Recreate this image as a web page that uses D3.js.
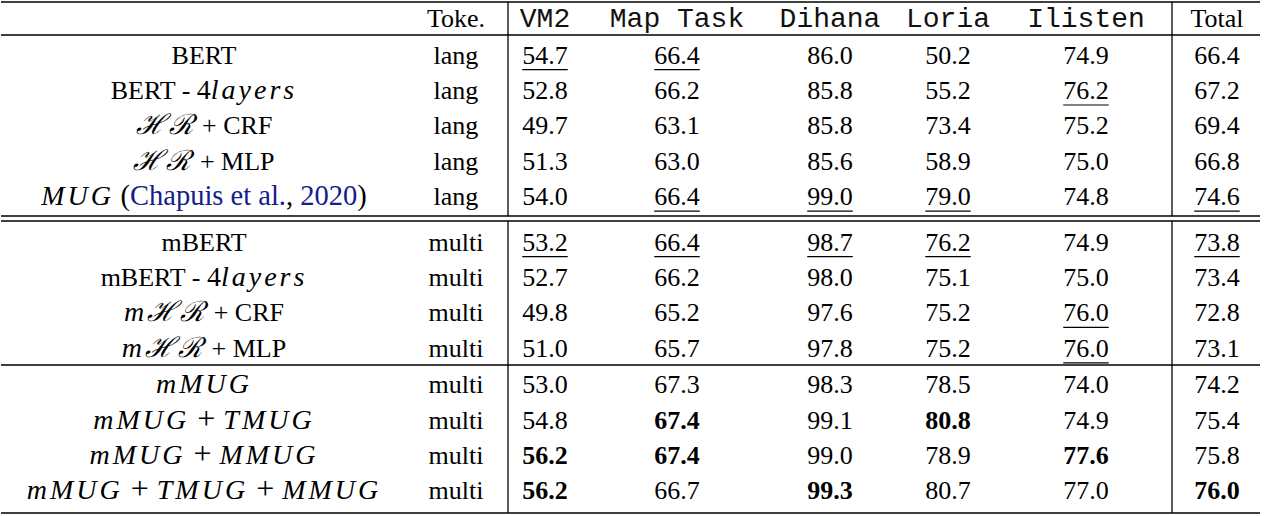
<!DOCTYPE html>
<html><head><meta charset="utf-8">
<script src="https://cdn.jsdelivr.net/npm/d3@7"></script>
<style>body{margin:0;background:#fff}svg{display:block}</style>
</head><body>
<script>
// ---------- data ----------
const datasetColumns = ["VM2", "Map Task", "Dihana", "Loria", "Ilisten"];
const tokeHeader = "Toke.";
const totalHeader = "Total";
// $...$ = math italic, {...} = citation (blue), [...] = parenthetical citation wrapper
const methods = [
  "BERT", "BERT - $4layers$", "$ℋℛ$ + CRF", "$ℋℛ$ + MLP", "$MUG$ [({Chapuis et al.}, {2020})]",
  "mBERT", "mBERT - $4layers$", "$mℋℛ$ + CRF", "$mℋℛ$ + MLP",
  "$mMUG$", "$mMUG+TMUG$", "$mMUG+MMUG$", "$mMUG+TMUG+MMUG$"
];
const tokenizers = ["lang","lang","lang","lang","lang","multi","multi","multi","multi","multi","multi","multi","multi"];
const groups =     [0,0,0,0,0,1,1,1,1,2,2,2,2];
const vm2     = [54.7,52.8,49.7,51.3,54.0,53.2,52.7,49.8,51.0,53.0,54.8,56.2,56.2];
const mapTask = [66.4,66.2,63.1,63.0,66.4,66.4,66.2,65.2,65.7,67.3,67.4,67.4,66.7];
const dihana  = [86.0,85.8,85.8,85.6,99.0,98.7,98.0,97.6,97.8,98.3,99.1,99.0,99.3];
const loria   = [50.2,55.2,73.4,58.9,79.0,76.2,75.1,75.2,75.2,78.5,80.8,78.9,80.7];
const ilisten = [74.9,76.2,75.2,75.0,74.8,74.9,75.0,76.0,76.0,74.0,74.9,77.6,77.0];
const total   = [66.4,67.2,69.4,66.8,74.6,73.8,73.4,72.8,73.1,74.2,75.4,75.8,76.0];
// per row, per value column (VM2..Ilisten, Total): u = underline, b = bold
const emphasis = [
  "uu----", "----u-", "------", "------", "-uuu-u",
  "uuuu-u", "------", "----u-", "----u-",
  "------", "-b-b--", "bb--b-", "b-b--b"
];

// ---------- layout ----------
const W = 1266, H = 516;
const serif = "'Liberation Serif','Times New Roman',serif";
const mathFont = "'Liberation Serif','Times New Roman',serif";
const mono = "'Liberation Mono','Courier New',monospace";
const fs = 26, fsMath = 28, fsMono = 28, fsCite = 28.5;
const colKeys = ["method","toke","VM2","Map Task","Dihana","Loria","Ilisten","Total"];
const x = d3.scaleOrdinal().domain(colKeys).range([204, 456, 545, 677, 830, 948, 1086, 1217]);
const rowIdx = d3.range(methods.length);
const yBase = d3.scaleLinear().domain([0, 12]).range([55, 55 + 12 * 35.4]);
const groupOffset = d3.scaleOrdinal().domain([0,1,2]).range([0, 10, 11]);
const y = i => yBase(i) + groupOffset(groups[i]);
const headerY = 18;
const xl = 1, xr = 1260;
const vLines = [508, 1172];
const hTop = 2, hHead = 35, hDbl1 = 216, hDbl2 = 221, hSep = 365, hBot = 513;

const svg = d3.select("body").append("svg").attr("width", W).attr("height", H);

// rules
const hs = [hTop, hHead, hDbl1, hDbl2, hSep, hBot];
svg.selectAll("line.h").data(hs).join("line").attr("class","h")
  .attr("x1", xl).attr("x2", xr).attr("y1", d => d).attr("y2", d => d)
  .attr("stroke", "#000").attr("stroke-width", 1.3);
const vSegs = vLines.flatMap(vx => [[vx, hTop, hDbl1], [vx, hDbl2, hBot]]);
svg.selectAll("line.v").data(vSegs).join("line").attr("class","v")
  .attr("x1", d => d[0]).attr("x2", d => d[0]).attr("y1", d => d[1]).attr("y2", d => d[2])
  .attr("stroke", "#000").attr("stroke-width", 1.3);

const base = c => c + 0.33 * fs; // baseline from visual center

// header
const hdr = svg.append("g");
hdr.append("text").attr("x", x("toke")).attr("y", base(headerY)).attr("text-anchor","middle")
  .attr("font-family", serif).attr("font-size", fs).text(tokeHeader);
datasetColumns.forEach(c => {
  hdr.append("text").attr("x", x(c)).attr("y", base(headerY)).attr("text-anchor","middle")
    .attr("font-family", mono).attr("font-size", fsMono).attr("fill", "#111").text(c);
});
hdr.append("text").attr("x", x("Total")).attr("y", base(headerY)).attr("text-anchor","middle")
  .attr("font-family", serif).attr("font-size", fs).text(totalHeader);

// method labels
function renderLabel(t, str, size) {
  const re = /(\$[^$]*\$|\{[^}]*\}|\[|\])/g;
  let sz = size;
  str.split(re).filter(s => s.length).forEach(seg => {
    if (seg === "[") { sz = fsCite; return; }
    if (seg === "]") { sz = size; return; }
    if (seg[0] === "$") {
      const inner = seg.slice(1, -1);
      inner.split(/(\+|\d+)/).filter(s => s.length).forEach(p => {
        if (p === "+") {
          t.append("tspan").text("+").attr("font-family", serif).attr("font-style","normal")
            .attr("font-size", fsMath + 4).attr("dx", 8).attr("letter-spacing", "8px");
        } else if (/^\d+$/.test(p)) {
          t.append("tspan").text(p).attr("font-family", serif).attr("font-style","normal").attr("font-size", fsMath);
        } else {
          t.append("tspan").text(p).attr("font-family", mathFont).attr("font-style","italic")
            .attr("font-size", fsMath).attr("letter-spacing", "3px");
        }
      });
    } else if (seg[0] === "{") {
      t.append("tspan").text(seg.slice(1, -1)).attr("fill", "#14208a").attr("font-size", sz);
    } else {
      t.append("tspan").text(seg).attr("font-size", sz);
    }
  });
}
rowIdx.forEach(i => {
  const t = svg.append("text").attr("x", x("method")).attr("y", base(y(i)))
    .attr("text-anchor","middle").attr("font-family", serif).attr("font-size", fs);
  renderLabel(t, methods[i], fs);
  svg.append("text").attr("x", x("toke")).attr("y", base(y(i))).attr("text-anchor","middle")
    .attr("font-family", serif).attr("font-size", fs).text(tokenizers[i]);
});

// values
const valueCols = [["VM2", vm2], ["Map Task", mapTask], ["Dihana", dihana], ["Loria", loria], ["Ilisten", ilisten], ["Total", total]];
const cells = [];
rowIdx.forEach(i => valueCols.forEach(([k, arr], j) => cells.push({i, k, v: arr[i], e: emphasis[i][j]})));
const cellSel = svg.selectAll("text.val").data(cells).join("text").attr("class","val")
  .attr("x", d => x(d.k)).attr("y", d => base(y(d.i))).attr("text-anchor","middle")
  .attr("font-family", serif).attr("font-size", fs)
  .attr("font-weight", d => d.e === "b" ? "bold" : "normal")
  .text(d => d3.format(".1f")(d.v));
cellSel.filter(d => d.e === "u").each(function(d) {
  const bb = this.getBBox();
  svg.append("line").attr("x1", bb.x).attr("x2", bb.x + bb.width)
    .attr("y1", base(y(d.i)) + 6).attr("y2", base(y(d.i)) + 6)
    .attr("stroke", "#000").attr("stroke-width", 1.2);
});
</script>
</body></html>
